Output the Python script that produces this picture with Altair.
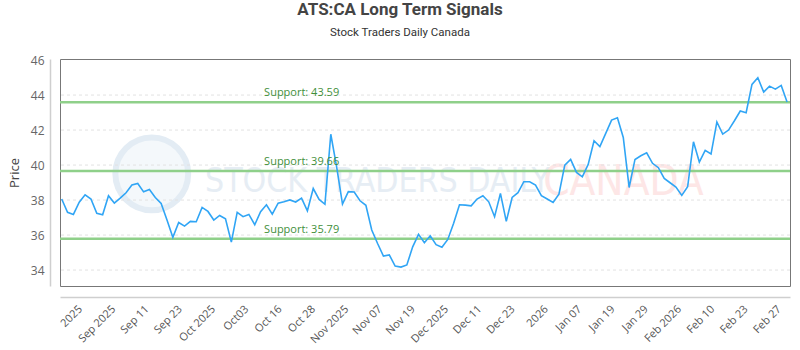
import altair as alt
import pandas as pd

# ---- data ----
price = [
    38.06, 37.30, 37.18, 37.88, 38.30, 38.06, 37.24, 37.16, 38.25, 37.83,
    38.11, 38.42, 38.86, 38.95, 38.47, 38.60, 38.15, 37.81, 36.86, 35.87,
    36.72, 36.51, 36.78, 36.76, 37.58, 37.35, 36.86, 37.12, 36.93, 35.60,
    37.30, 37.05, 37.18, 36.59, 37.33, 37.73, 37.19, 37.82, 37.90, 38.01,
    37.89, 38.11, 37.38, 38.66, 38.04, 37.76, 41.76, 39.90, 37.77, 38.48,
    38.46, 37.96, 37.70, 36.29, 35.52, 34.80, 34.87, 34.23, 34.17, 34.29,
    35.33, 36.04, 35.56, 35.96, 35.45, 35.30, 35.75, 36.67, 37.73, 37.71,
    37.67, 38.06, 38.25, 37.90, 37.05, 38.38, 36.78, 38.15, 38.42, 39.05,
    39.05, 38.86, 38.25, 38.06, 37.87, 38.34, 40.00, 40.32, 39.58, 39.33,
    40.04, 41.39, 41.05, 41.81, 42.57, 42.70, 41.58, 38.72, 40.32, 40.53,
    40.70, 40.10, 39.85, 39.24, 38.99, 38.74, 38.27, 38.76, 41.33, 40.17,
    40.84, 40.63, 42.46, 41.77, 42.00, 42.53, 43.09, 42.99, 44.61, 44.99,
    44.17, 44.51, 44.34, 44.55, 43.60,
]
x_labels = [
    "2025", "Sep 2025", "Sep 11", "Sep 23", "Oct 2025", "Oct03", "Oct 16",
    "Oct 28", "Nov 2025", "Nov 07", "Nov 19", "Dec 2025", "Dec 11", "Dec 23",
    "2026", "Jan 07", "Jan 19", "Jan 29", "Feb 2026", "Feb 10", "Feb 23", "Feb 27",
]
support_levels = [43.59, 39.66, 35.79]
grid_levels = [34, 36, 38, 40, 42, 44]
y_ticks = [34, 36, 38, 40, 42, 44, 46]

# ---- frames ----
df = pd.DataFrame({"i": list(range(len(price))), "price": price})
sup = pd.DataFrame({"level": support_levels,
                    "label": [f"Support: {v:.2f}" for v in support_levels]})
grid = pd.DataFrame({"level": grid_levels})

tick_first, tick_step = 2.44, 5.69
tick_vals = [round(tick_first + k * tick_step, 3) for k in range(len(x_labels))]
label_expr = "''"
for k in range(len(x_labels) - 1, -1, -1):
    label_expr = f"(datum.value < {tick_vals[k] + tick_step / 2:.3f} ? '{x_labels[k]}' : {label_expr})"

xscale = alt.Scale(domain=[-0.29, 124.5], nice=False, zero=False)
yscale = alt.Scale(domain=[33.09, 46.06], nice=False, zero=False)

line = alt.Chart(df).mark_line(color="#30a5f5", strokeWidth=1.6).encode(
    x=alt.X("i:Q", scale=xscale, axis=alt.Axis(
        values=tick_vals, labelExpr=label_expr, title=None, grid=False,
        ticks=False, offset=11, domainColor="#cfcfcf", domainWidth=1.5,
        labelAngle=315, labelAlign="right", labelBaseline="top",
        labelFont="Open Sans", labelFontSize=11, labelColor="#555",
        labelPadding=6, labelOverlap=False)),
    y=alt.Y("price:Q", scale=yscale, axis=alt.Axis(
        values=y_ticks, title="Price", grid=False, ticks=False, offset=10,
        domainColor="#cfcfcf", domainWidth=1.5, labelFont="Open Sans",
        labelFontSize=12, labelColor="#666", labelPadding=6, labelOverlap=False,
        titleFont="Open Sans", titleFontSize=13, titleFontWeight="normal",
        titleColor="#444", titlePadding=9)),
)

gridrules = alt.Chart(grid).mark_rule(color="#e2e2e2", strokeDash=[3, 3], strokeWidth=1).encode(
    y=alt.Y("level:Q", scale=yscale, axis=None),
)

suprules = alt.Chart(sup).mark_rule(color="#8fd08a", strokeWidth=2.5).encode(
    y=alt.Y("level:Q", scale=yscale, axis=None),
)

suptext = alt.Chart(sup).mark_text(
    align="left", baseline="bottom", dy=-4, font="Open Sans", fontSize=11,
    color="#3f8f3a").encode(
    x=alt.X("lx:Q", scale=xscale, axis=None),
    y=alt.Y("level:Q", scale=yscale, axis=None),
    text="label:N",
).transform_calculate(lx="34.6")

wm_logo = alt.Chart(pd.DataFrame({"a": [0]})).mark_point(
    shape="circle", size=5300, filled=True, fill="#f4f8fb", stroke="#e3ecf4",
    strokeWidth=6, opacity=1).encode(
    x=alt.X("wx:Q", scale=xscale, axis=None),
    y=alt.Y("wy:Q", scale=yscale, axis=None),
).transform_calculate(wx="15.4", wy="39.5")

wm_text1 = alt.Chart(pd.DataFrame({"t": ["STOCK TRADERS DAILY"]})).mark_text(
    align="left", baseline="middle", font="DejaVu Sans Condensed", fontSize=33.5,
    color="#e6edf4").encode(
    x=alt.X("wx:Q", scale=xscale, axis=None),
    y=alt.Y("wy:Q", scale=yscale, axis=None),
    text="t:N",
).transform_calculate(wx="24.5", wy="39.05")

wm_text2 = alt.Chart(pd.DataFrame({"t": ["CANADA"]})).mark_text(
    align="left", baseline="middle", font="DejaVu Sans Condensed", fontSize=42,
    color="#fde6e6").encode(
    x=alt.X("wx:Q", scale=xscale, axis=None),
    y=alt.Y("wy:Q", scale=yscale, axis=None),
    text="t:N",
).transform_calculate(wx="82.3", wy="39.05")

chart = alt.layer(
    wm_logo, wm_text1, wm_text2, gridrules, suprules, line, suptext
).resolve_axis(x="independent", y="independent").properties(
    width=730, height=227,
    padding={"left": 60, "top": 59, "right": 10, "bottom": 64},
    autosize=alt.AutoSizeParams(type="none"),
    title=alt.TitleParams(
        "ATS:CA Long Term Signals", subtitle="Stock Traders Daily Canada",
        anchor="middle", dx=-25, font="Roboto", fontSize=17, fontWeight="bold",
        color="#444", subtitleFont="Roboto", subtitleFontSize=11.5,
        subtitleColor="#333", offset=15, subtitlePadding=8),
).configure_view(stroke="#777", strokeWidth=1).configure_axis(labelOverlap=False)

chart.save("out.html", embed_options={"renderer": "svg", "actions": False})
